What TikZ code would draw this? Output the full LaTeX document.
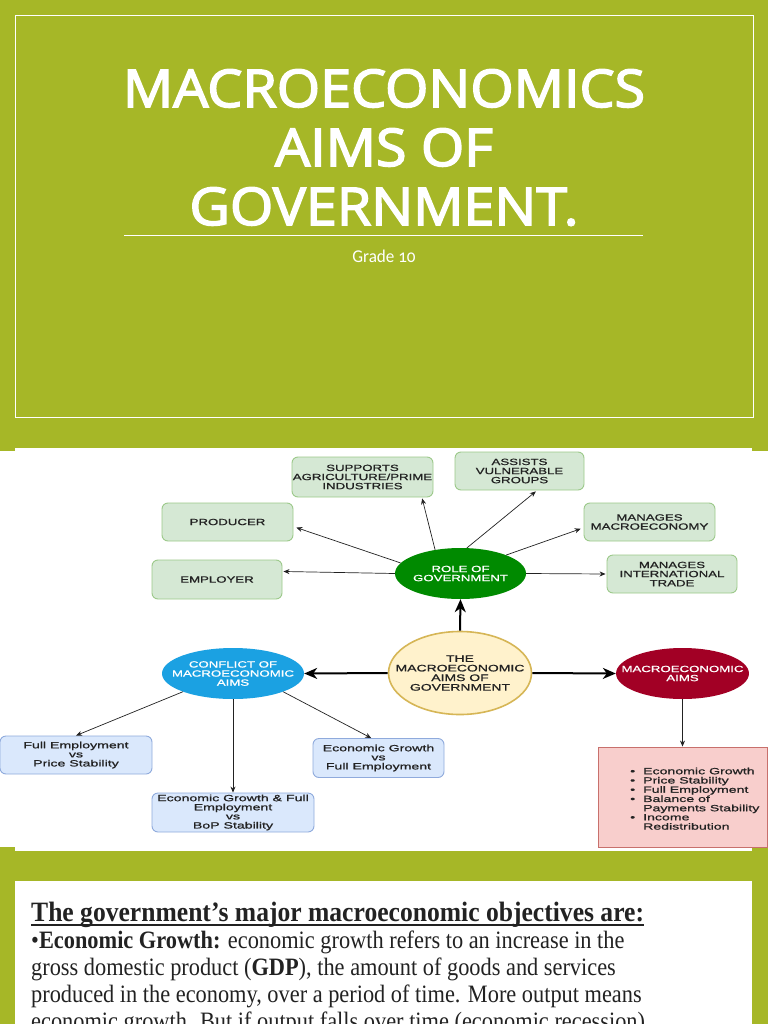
\documentclass[tikz,border=0pt]{standalone}
\usepackage{fontspec}
\usetikzlibrary{shapes.geometric,arrows.meta,calc}
\newfontfamily\titlefont[FakeBold=3,FakeStretch=1.07]{Open Sans}
\newfontfamily\gradefont[Numbers=OldStyle,FakeStretch=0.95]{Carlito}
\newfontfamily\diag[FakeStretch=1.47,FakeBold=1]{Liberation Sans}
\newfontfamily\diaglow[FakeStretch=1.57,FakeBold=1]{Liberation Sans}
\newfontfamily\bodyserif[FakeStretch=0.894]{Liberation Serif}
\newfontfamily\headserif[FakeStretch=0.914]{Liberation Serif}
\definecolor{slide}{HTML}{A6B727}
\definecolor{gfill}{HTML}{D5E8D4}
\definecolor{gline}{HTML}{9CC98A}
\definecolor{bfill}{HTML}{DAE8FC}
\definecolor{bline}{HTML}{8FAADC}
\definecolor{rfill}{HTML}{F8CECC}
\definecolor{rline}{HTML}{C8706C}
\definecolor{yfill}{HTML}{FFF2CC}
\definecolor{yline}{HTML}{D6B656}
\definecolor{cblue}{HTML}{1BA1E2}
\definecolor{cgreen}{HTML}{008A00}
\definecolor{cred}{HTML}{A20025}
\definecolor{ink}{HTML}{222222}
\tikzset{
 dtext/.style={font=\diag\fontsize{9}{9.1}\selectfont,align=center,text=ink,inner sep=0pt},
 ltext/.style={font=\diaglow\fontsize{9}{9.1}\selectfont,align=center,text=ink,inner sep=0pt},
 gbox/.style={dtext,draw=gline,fill=gfill,line width=0.9pt,rounded corners=6pt,minimum width=#1},
 gbox/.default=130pt,
 bbox/.style={ltext,draw=bline,fill=bfill,line width=0.9pt,rounded corners=6pt},
 blob/.style={ellipse,dtext,inner xsep=-14pt,inner ysep=-2pt},
 thin arr/.style={draw=ink,line width=0.7pt,-{Stealth[length=6pt,width=5pt]}},
 thick arr/.style={draw=black,line width=2pt,-{Stealth[length=13pt,width=11pt,inset=4pt]}},
 panel/.style={fill=white,draw=none,inner sep=0pt,outer sep=0pt},
}
\begin{document}
\begin{tikzpicture}[x=1pt,y=-1pt]
\useasboundingbox (0,0) rectangle (768,1024);
\fill[slide] (0,0) rectangle (768,1024);
% first slide
\node[draw=white,line width=0.8pt,minimum width=738pt,minimum height=402pt,inner sep=0pt] (frame) at (384,216) {};
\node[anchor=base,text=white,align=center,inner sep=0pt,font=\titlefont\fontsize{52}{59}\selectfont] (title) at (384,225) {MACROECONOMICS\\AIMS OF\\GOVERNMENT.};
\coordinate (ruleL) at (124,235);
\coordinate (ruleR) at (643,235);
\draw[white,line width=0.7pt] (ruleL) -- (ruleR);
\node[anchor=base,text=white,inner sep=0pt,font=\gradefont\fontsize{18}{18}\selectfont] (grade) at (384,262) {Grade 10};
% second slide
\node[panel,minimum width=737pt,minimum height=403pt] (panelA) at (383.5,649.5) {};
\node[panel,minimum width=768pt,minimum height=396pt] (panelB) at (384,649) {};
% third slide
\node[panel,minimum width=737pt,minimum height=143pt] (panelC) at (383.5,952.5) {};
% diagram nodes
\node[gbox=141pt,minimum height=40pt] (supports) at (362.5,477) {SUPPORTS\\AGRICULTURE/PRIME\\INDUSTRIES};
\node[gbox=129pt,minimum height=38pt] (assists) at (519.5,471) {ASSISTS\\VULNERABLE\\GROUPS};
\node[gbox=131pt,minimum height=38pt] (producer) at (227.5,522) {PRODUCER};
\node[gbox=130pt,minimum height=39pt] (employer) at (217,579.5) {EMPLOYER};
\node[gbox=131pt,minimum height=38pt] (macroecon) at (649.5,522) {MANAGES\\MACROECONOMY};
\node[gbox=130pt,minimum height=38pt] (intl) at (672,574) {MANAGES\\INTERNATIONAL\\TRADE};
\node[blob,fill=cgreen,text=white,minimum width=131pt,minimum height=51pt] (role) at (460.5,573.5) {ROLE OF\\GOVERNMENT};
\node[blob,fill=yfill,draw=yline,line width=1.6pt,minimum width=143pt,minimum height=83pt,font=\diag\fontsize{9.5}{9.6}\selectfont] (aims) at (460,673) {THE\\MACROECONOMIC\\AIMS OF\\GOVERNMENT};
\node[blob,fill=cblue,text=white,minimum width=142pt,minimum height=51pt] (conflict) at (233,673.5) {CONFLICT OF\\MACROECONOMIC\\AIMS};
\node[blob,fill=cred,text=white,minimum width=131pt,minimum height=51pt] (macroaims) at (682.5,673.5) {MACROECONOMIC\\AIMS};
\node[bbox,minimum width=152pt,minimum height=38pt] (fullprice) at (76,755) {Full Employment\\vs\\Price Stability};
\node[bbox,minimum width=131pt,minimum height=39pt] (growthfull) at (378.5,758) {Economic Growth\\vs\\Full Employment};
\node[bbox,minimum width=162pt,minimum height=39pt] (bop) at (233,812.5) {Economic Growth \& Full\\Employment\\vs\\BoP Stability};
\node[draw=rline,fill=rfill,line width=0.9pt,minimum width=169pt,minimum height=100pt,inner sep=0pt] (aimsbox) at (682.5,797) {};
\node[ltext,anchor=west,align=left] (aimslist) at (630,800) {\begin{tabular}{@{}l@{\hspace{8pt}}l@{}}
\textbullet&Economic Growth\\
\textbullet&Price Stability\\
\textbullet&Full Employment\\
\textbullet&Balance of\\
&Payments Stability\\
\textbullet&Income\\
&Redistribution
\end{tabular}};
% connectors
\draw[thin arr,shorten >=3pt] (role.170) -- (producer.-4.4);
\draw[thin arr,shorten >=1pt] (role.west) -- (employer.7.5);
\draw[thin arr,shorten >=1pt] (role.137) -- (supports.-19.5);
\draw[thin arr,shorten >=1.5pt] (role.76) -- (assists.-48);
\draw[thin arr,shorten >=3pt] (role.22) -- (macroecon.185);
\draw[thin arr,shorten >=1pt] (role.east) -- (intl.west);
\draw[thick arr] (aims.north) -- (role.south);
\draw[thick arr] (aims.west) -- (conflict.east);
\draw[thick arr] (aims.east) -- (macroaims.west);
\draw[thin arr] (macroaims.south) -- (aimsbox.north);
\draw[thin arr] (conflict.200) -- (fullprice.north);
\draw[thin arr] (conflict.south) -- (bop.north);
\draw[thin arr] (conflict.-20) -- (growthfull.110.6);
% text of third slide
\node[anchor=base west,inner sep=0pt,text=ink,font=\headserif\bfseries\fontsize{28}{27}\selectfont] (heading) at (31,921) {The government’s major macroeconomic objectives are:};
\coordinate (ulL) at (31,925);
\coordinate (ulR) at (644,925);
\draw[ink,line width=1.1pt] (ulL) -- (ulR);
\node[anchor=base west,inner sep=0pt,text=ink,font=\bodyserif\fontsize{25}{27}\selectfont] (l1) at (31,948) {\textbullet\textbf{Economic Growth:} economic growth refers to an increase in the};
\node[anchor=base west,inner sep=0pt,text=ink,font=\bodyserif\fontsize{25}{27}\selectfont] (l2) at (31,975) {gross domestic product (\textbf{GDP}), the amount of goods and services};
\node[anchor=base west,inner sep=0pt,text=ink,font=\bodyserif\fontsize{25}{27}\selectfont] (l3) at (31,1002) {produced in the economy, over a period of time. More output means};
\node[anchor=base west,inner sep=0pt,text=ink,font=\bodyserif\fontsize{25}{27}\selectfont] (l4) at (31,1029) {economic growth. But if output falls over time (economic recession)};
\end{tikzpicture}
\end{document}
